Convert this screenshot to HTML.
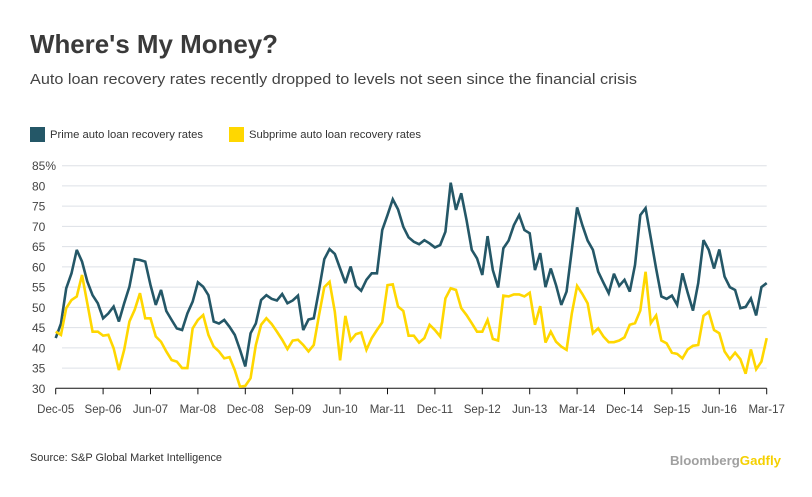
<!DOCTYPE html>
<html><head><meta charset="utf-8"><style>
body{margin:0;background:#fff;}
svg{display:block;font-family:"Liberation Sans",sans-serif;}
</style></head><body>
<svg id="chart" width="812" height="497" viewBox="0 0 812 497">
<rect width="812" height="497" fill="#fff"/>
<text x="30" y="53" font-size="26" font-weight="bold" fill="#3a3a3a" textLength="248" lengthAdjust="spacingAndGlyphs">Where's My Money?</text>
<text x="30" y="84" font-size="15" fill="#444" textLength="607" lengthAdjust="spacingAndGlyphs">Auto loan recovery rates recently dropped to levels not seen since the financial crisis</text>
<g>
<rect x="30" y="127" width="15" height="15" fill="#245767"/>
<text x="50" y="138" font-size="11" fill="#333" textLength="153" lengthAdjust="spacingAndGlyphs">Prime auto loan recovery rates</text>
<rect x="229" y="127" width="15" height="15" fill="#FFD700"/>
<text x="249" y="138" font-size="11" fill="#333" textLength="172" lengthAdjust="spacingAndGlyphs">Subprime auto loan recovery rates</text>
</g>
<g id="grid"></g><g id="axes"></g><g id="series"></g>
<text x="30" y="461" font-size="11" fill="#333" textLength="192" lengthAdjust="spacingAndGlyphs">Source: S&amp;P Global Market Intelligence</text>
<text x="670" y="465" font-size="13" font-weight="bold" textLength="111" lengthAdjust="spacingAndGlyphs"><tspan fill="#a0a0a0">Bloomberg</tspan><tspan fill="#F5D000">Gadfly</tspan></text>
</svg>
<script>
const xTickLabels = ["Dec-05","Sep-06","Jun-07","Mar-08","Dec-08","Sep-09","Jun-10","Mar-11","Dec-11","Sep-12","Jun-13","Mar-14","Dec-14","Sep-15","Jun-16","Mar-17"];
const yTicks = [30,35,40,45,50,55,60,65,70,75,80,85];
const primeRates = [42.4,46,54.7,58.4,64.2,61.3,56.4,53,51,47.3,48.5,50.2,46.5,51,55.1,61.9,61.7,61.3,55.5,50.6,54.3,49.1,46.9,44.8,44.4,48.5,51.4,56.2,55.1,53,46.5,46,46.9,45.2,43.2,39.5,35.4,43.6,46,51.8,53,52.1,51.7,53.3,51,51.7,52.9,44.4,47,47.3,54.3,61.9,64.4,63.2,59.6,56,60.1,55.3,54.1,56.8,58.4,58.4,69.1,72.8,76.7,74.2,69.9,67.3,66.2,65.6,66.6,65.8,64.8,65.4,68.7,80.8,74.1,78.2,71.6,64.2,62.1,58,67.6,59.2,54.9,64.6,66.5,70.3,72.8,69.1,68.3,59.2,63.4,55,59.6,55.5,50.6,53.9,64.2,74.7,70.3,66.5,64.2,58.8,56.1,53.5,58.3,55.3,56.8,53.9,60.5,72.8,74.5,67.1,59.6,52.7,52.1,52.9,50.6,58.4,53.6,49.2,56,66.6,64.2,59.6,64.3,57.6,55,54.3,49.8,50.1,52.2,48,55,56];
const subprimeRates = [44,43.2,49.8,51.8,52.7,58,51,44,44,43,43.2,39.9,34.5,39.5,46.5,49.4,53.5,47.3,47.3,42.8,41.5,39.1,37,36.6,35,35,44.8,46.9,48.1,43.2,40.3,39.1,37.4,37.7,34.5,30.4,30.6,32.5,40.7,45.7,47.3,45.9,44,42,39.7,41.8,42,40.7,39.1,40.7,48.1,55,56.3,48.9,36.9,47.9,41.8,43.4,43.8,39.5,42.4,44.4,46.3,55.5,55.7,50.2,49.1,43,43,41.3,42.4,45.7,44.4,42.8,52.2,54.7,54.3,49.8,48.1,46.1,44,44,46.9,42.2,41.8,52.9,52.7,53.2,53.2,52.7,53.6,45.7,50.3,41.3,44,41.5,40.3,39.5,48.5,55.3,53.3,51,43.6,44.8,42.8,41.4,41.4,41.8,42.6,45.7,46.1,49.2,58.8,46.1,48,41.8,41.1,38.8,38.5,37.4,39.6,40.5,40.7,47.9,48.9,44.4,43.6,39.1,37.2,38.8,37.2,33.6,39.6,34.7,36.6,42.4];

const NS="http://www.w3.org/2000/svg";
const X0=55.7, X1=766.7, Y0=388.3, Y1=165.7;
const nMonths = (xTickLabels.length-1)*9;
const xScale = i => X0 + (X1-X0)*i/nMonths;
const yScale = v => Y0 - (v-30)*(Y0-Y1)/55;
function mk(tag, attrs, parent){const e=document.createElementNS(NS,tag);for(const k in attrs)e.setAttribute(k,attrs[k]);parent.appendChild(e);return e;}
const grid=document.getElementById('grid'), axes=document.getElementById('axes'), series=document.getElementById('series');
yTicks.forEach(v=>{
  if(v>30){const l=mk('line',{x1:62,x2:X1,y1:yScale(v),y2:yScale(v),stroke:'#dde0e6','stroke-width':1},grid);
  
  }
  const t=mk('text',{x:32,y:yScale(v)+4.5,'font-size':12,fill:'#444'},axes);
  t.textContent = v===85? '85%' : String(v);
  
  
});
const ax=mk('line',{x1:X0,x2:X1,y1:Y0,y2:Y0,stroke:'#111','stroke-width':1},axes);


xTickLabels.forEach((lab,k)=>{
  const x=xScale(k*9);
  const tk=mk('line',{x1:x,x2:x,y1:Y0,y2:Y0+6,stroke:'#111','stroke-width':1},axes);
  
  
  const t=mk('text',{x:x,y:413,'font-size':11.5,fill:'#444','text-anchor':'middle'},axes);
  t.textContent=lab;
  
  
});
function line(vals,color,name){
  const d=vals.map((v,i)=>(i?'L':'M')+xScale(i).toFixed(2)+','+yScale(v).toFixed(2)).join('');
  const p=mk('path',{d:d,fill:'none',stroke:color,'stroke-width':2.6,'stroke-linejoin':'miter','stroke-miterlimit':3},series);
  
  
}
line(primeRates,'#245767','prime-rate-line');
line(subprimeRates,'#FFD700','subprime-rate-line');
</script>
</body></html>
